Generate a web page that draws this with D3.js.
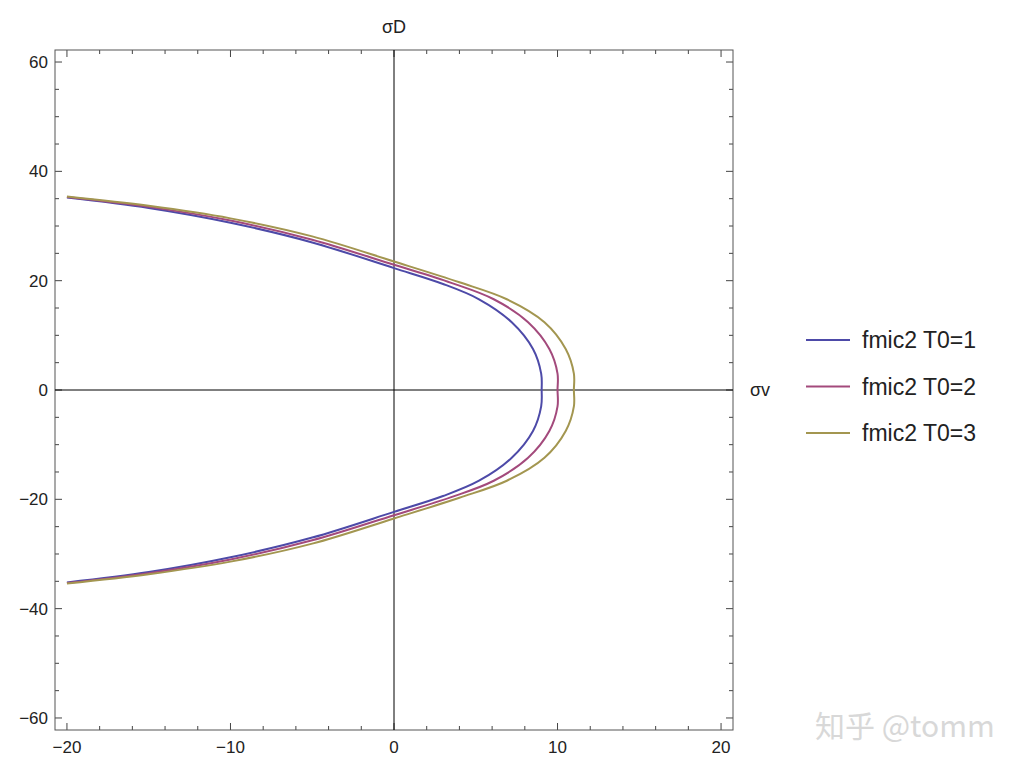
<!DOCTYPE html>
<html><head><meta charset="utf-8">
<script src="https://cdn.jsdelivr.net/npm/d3@7"></script>
<style>body{margin:0;background:#fff;font-family:"Liberation Sans",Arial,sans-serif}</style>
</head><body><div id="chart"></div>
<script>
// values: sigma v (x) against sigma D (y), upper branch;
// the lower branch in the picture is its mirror image
const seriesNames = ["fmic2 T0=1", "fmic2 T0=2", "fmic2 T0=3"];
const seriesColors = ["#4d4aa8", "#a34a7c", "#a39650"];
const xT1 = [-20, -15, -10, -5, 0, 3, 5.2, 7.2, 8.5, 9.0, 9.03];
const yT1 = [35.2, 33.3, 30.6, 27.0, 22.3, 19.4, 16.6, 12.4, 7.5, 3, 0];
const xT2 = [-20, -15, -10, -5, 0, 3.5, 6.1, 8.2, 9.5, 10.0, 10.0];
const yT2 = [35.3, 33.5, 31.0, 27.5, 22.9, 19.6, 16.6, 12.4, 7.5, 3, 0];
const xT3 = [-20, -15, -10, -5, 0, 4.0, 6.9, 9.2, 10.5, 11.0, 11.0];
const yT3 = [35.4, 33.7, 31.4, 28.1, 23.5, 19.7, 16.6, 12.4, 7.5, 3, 0];
const xTicks = [-20, -10, 0, 10, 20];
const yTicks = [-60, -40, -20, 0, 20, 40, 60];

const W = 1031, H = 770;
const svg = d3.select("#chart").append("svg").attr("width", W).attr("height", H);
const L = 55, R = 733, T = 50, B = 730;
const x = d3.scaleLinear().domain([-20.73, 20.73]).range([L, R]);
const y = d3.scaleLinear().domain([-62.2, 62.2]).range([B, T]);
const fmt = d => d < 0 ? "\u2212" + (-d) : d;

// frame ticks on all four sides
const g = svg.append("g").attr("stroke", "#444").attr("stroke-width", 1);
d3.range(-20, 20.1, 2).forEach(v => {
  const len = v % 10 === 0 ? 7 : 4;
  g.append("line").attr("x1", x(v)).attr("x2", x(v)).attr("y1", B).attr("y2", B - len);
  g.append("line").attr("x1", x(v)).attr("x2", x(v)).attr("y1", T).attr("y2", T + len);
});
d3.range(-60, 60.1, 5).forEach(v => {
  const len = v % 20 === 0 ? 7 : 4;
  g.append("line").attr("y1", y(v)).attr("y2", y(v)).attr("x1", L).attr("x2", L + len);
  g.append("line").attr("y1", y(v)).attr("y2", y(v)).attr("x1", R).attr("x2", R - len);
});
svg.append("rect").attr("x", L).attr("y", T).attr("width", R - L).attr("height", B - T)
  .attr("fill", "none").attr("stroke", "#555");

svg.selectAll(".xt").data(xTicks).enter().append("text")
  .attr("x", d => x(d)).attr("y", B + 23).attr("text-anchor", "middle")
  .attr("font-size", 17).attr("fill", "#222").text(fmt);
svg.selectAll(".yt").data(yTicks).enter().append("text")
  .attr("x", L - 7).attr("y", d => y(d) + 6).attr("text-anchor", "end")
  .attr("font-size", 17).attr("fill", "#222").text(fmt);

// axes through origin
svg.append("line").attr("x1", L).attr("x2", R).attr("y1", y(0)).attr("y2", y(0)).attr("stroke", "#000");
svg.append("line").attr("x1", x(0)).attr("x2", x(0)).attr("y1", T).attr("y2", B).attr("stroke", "#000");
svg.append("text").attr("x", x(0)).attr("y", 33).attr("text-anchor", "middle")
  .attr("font-size", 18).attr("fill", "#222").text("σD");
svg.append("text").attr("x", 750).attr("y", y(0) + 6)
  .attr("font-size", 18).attr("fill", "#222").text("σv");

const line = d3.line().x(d => x(d[0])).y(d => y(d[1])).curve(d3.curveCatmullRom);
[[xT1, yT1], [xT2, yT2], [xT3, yT3]].forEach(([xs, ys], i) => {
  const upper = xs.map((v, j) => [v, ys[j]]);
  const lower = upper.slice(0, -1).reverse().map(p => [p[0], -p[1]]);
  svg.append("path").attr("d", line(upper.concat(lower)))
    .attr("fill", "none").attr("stroke", seriesColors[i]).attr("stroke-width", 2);
});

// legend
seriesNames.forEach((n, i) => {
  const ly = 340 + i * 46.5;
  svg.append("line").attr("x1", 806).attr("x2", 850).attr("y1", ly).attr("y2", ly)
    .attr("stroke", seriesColors[i]).attr("stroke-width", 2);
  svg.append("text").attr("x", 862).attr("y", ly + 8).attr("font-size", 23)
    .attr("fill", "#222").text(n);
});

svg.append("text").attr("x", 815).attr("y", 737).attr("font-size", 30)
  .attr("font-family", "Noto Sans CJK SC").attr("fill", "#d8d8d8").text("知乎 @tomm");
</script></body></html>
